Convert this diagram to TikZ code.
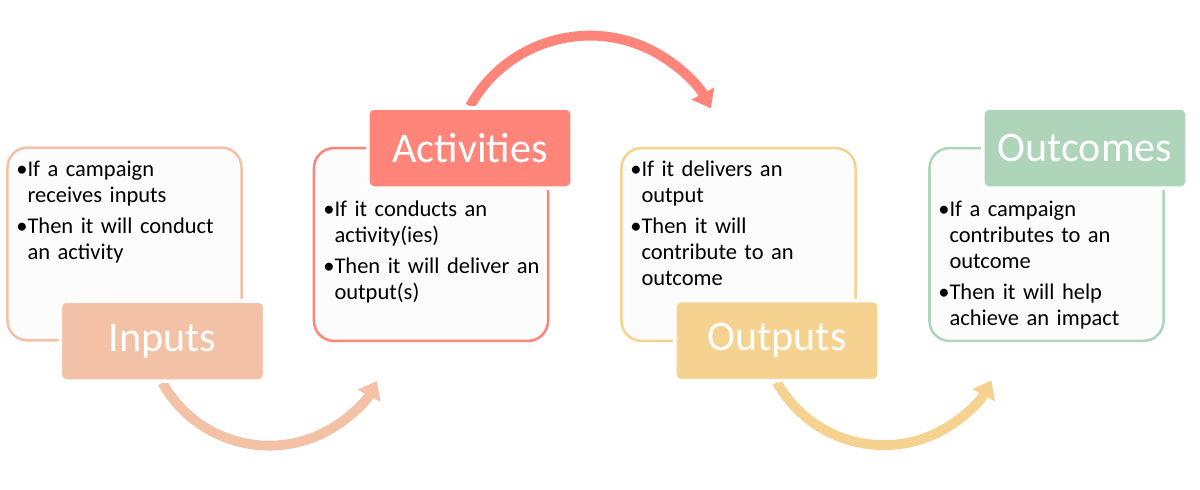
\documentclass[tikz,border=0pt]{standalone}
\usepackage{fontspec}
\setmainfont{Carlito}
\usetikzlibrary{arrows.meta,backgrounds}

\definecolor{inpeach}{HTML}{F2C1A6}
\definecolor{actsalmon}{HTML}{FF847A}
\definecolor{outyellow}{HTML}{F5D28F}
\definecolor{ocgreen}{HTML}{AED4B9}
\definecolor{boxfill}{HTML}{FCFCFC}

% one bullet with its lines (lines split by \\)
\newcommand{\bitem}[1]{\par\noindent\makebox[8pt][l]{\textbullet}%
    \begin{tabular}[t]{@{}l@{}}#1\end{tabular}\par\vspace{2.8pt}}

\begin{document}
\begin{tikzpicture}[
    x=0.025cm, y=0.025cm,    % 1 unit = 1 pixel of the reference
    textbox/.style={draw=#1, line width=1.8pt, rounded corners=0.5cm,
        fill=boxfill, minimum width=5.85cm, minimum height=4.82cm},
    titlebox/.style={fill=#1, draw=white, line width=2.5pt, rounded corners=4pt,
        minimum width=5.1cm, minimum height=2cm, text=white,
        font=\fontsize{30}{36}\selectfont},
    bodytext/.style={anchor=north west, inner sep=0pt, text width=6cm,
        align=left, font=\fontsize{16}{18.5}\selectfont},
    flow/.style={draw=#1, line width=7pt,
        -{Triangle[width=0.62cm,length=0.42cm]}}
]
    \useasboundingbox (0,0) rectangle (1200,-489);

    % --- 1. text boxes ---
    \node[textbox=inpeach]    (inbox)  at (124.5,-244) {};
    \node[textbox=actsalmon]  (actbox) at (431,-244.5) {};
    \node[textbox=outyellow]  (outbox) at (738.5,-244.5) {};
    \node[textbox=ocgreen]    (ocbox)  at (1046.5,-244.5) {};

    % --- 2. title boxes on the box edges ---
    \node[titlebox=inpeach]   (inputs)     at (162.5,-341) {Inputs};
    \node[titlebox=actsalmon] (activities) at (470,-148) {Activities};
    \node[titlebox=outyellow] (outputs)    at (777,-340.5) {Outputs};
    \node[titlebox=ocgreen]   (outcomes)   at (1085,-148) {Outcomes};

    % --- 3. bullet texts ---
    \node[bodytext] (intext) at (16,-150) {%
        \bitem{If a campaign\\ receives inputs}
        \bitem{Then it will conduct\\ an activity}};
    \node[bodytext] (acttext) at (323,-190) {%
        \bitem{If it conducts an\\ activity(ies)}
        \bitem{Then it will deliver an\\ output(s)}};
    \node[bodytext] (outtext) at (630,-150) {%
        \bitem{If it delivers an\\ output}
        \bitem{Then it will\\ contribute to an\\ outcome}};
    \node[bodytext] (octext) at (938,-190) {%
        \bitem{If a campaign\\ contributes to an\\ outcome}
        \bitem{Then it will help\\ achieve an impact}};

    % --- 4. curved arrows (behind the boxes) ---
    \begin{scope}[on background layer]
        \draw[flow=inpeach] (inputs.south)
            arc[start angle=209, end angle=332, radius=122];
        \draw[flow=actsalmon] (activities.north)
            arc[start angle=151, end angle=28, radius=137];
        \draw[flow=outyellow] (outputs.south)
            arc[start angle=209, end angle=332, radius=122];
    \end{scope}

\end{tikzpicture}
\end{document}
